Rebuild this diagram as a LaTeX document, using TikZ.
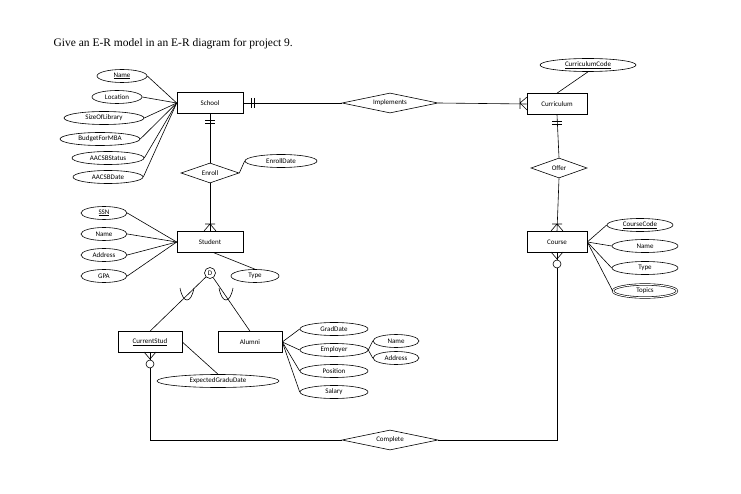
\documentclass[tikz,border=0pt]{standalone}
\usepackage{fontspec}
\setmainfont{Carlito}
\newfontfamily\titlefont{Liberation Serif}
\usetikzlibrary{shapes.geometric,shapes.misc}
\begin{document}
\begin{tikzpicture}[x=1pt,y=-1pt,font=\fontsize{7}{8}\selectfont,line width=0.6pt,
 ent/.style={draw,rectangle,minimum width=66pt,minimum height=21pt,inner sep=0pt},
 att/.style={draw,ellipse,minimum height=13pt,inner sep=0pt},
 rel/.style={draw,diamond,aspect=3,inner sep=1pt},
 dbl/.style={att,double,double distance=1pt}]
\useasboundingbox (0,0) rectangle (741,494);
\node[anchor=west,font=\titlefont\fontsize{11.5}{12}\selectfont] (title) at (50,44) {Give an E-R model in an E-R diagram for project 9.};
% entities
\node[ent] (school) at (210,103) {School};
\node[ent,minimum width=60pt] (curr) at (557,104) {Curriculum};
\node[ent] (student) at (210,242) {Student};
\node[ent,minimum width=60pt] (course) at (557,242) {Course};
\node[ent,minimum width=64pt] (cs) at (150,342) {\underline{CurrentStud}};
\node[ent,minimum width=64pt] (alum) at (250,342) {Alumni};
% relationships
\node[rel,minimum width=96pt,minimum height=20pt] (impl) at (390,103) {Implements};
\node[rel,minimum width=58pt,minimum height=20pt] (enroll) at (210,173) {Enroll};
\node[rel,minimum width=56pt,minimum height=20pt] (offer) at (559,168) {Offer};
\node[rel,minimum width=96pt,minimum height=20pt] (comp) at (390,440) {Complete};
% school attributes
\node[att,minimum width=50pt] (sname) at (122,76) {\underline{Name}};
\node[att,minimum width=50pt] (sloc) at (117,97) {Location};
\node[att,minimum width=80pt] (ssize) at (104,118) {SizeOfLibrary};
\node[att,minimum width=80pt] (sbud) at (100,139) {BudgetForMBA};
\node[att,minimum width=72pt] (sstat) at (108,158) {AACSBStatus};
\node[att,minimum width=70pt] (sdate) at (108,177) {AACSBDate};
\foreach \a in {sname,sloc,ssize,sbud,sstat,sdate} \draw (\a.east) -- (school.west);
\node[att,minimum width=96pt] (ccode) at (588,65) {\underline{CurriculumCode}};
\draw (ccode.south) -- (curr.north);
\node[att,minimum width=72pt] (edate) at (281,161) {EnrollDate};
\draw (enroll.east) -- (edate.west);
% student attributes
\node[att,minimum width=46pt] (ssn) at (104,213) {\underline{SSN}};
\node[att,minimum width=46pt] (stname) at (104,234) {Name};
\node[att,minimum width=46pt] (stadd) at (104,255) {Address};
\node[att,minimum width=46pt] (stgpa) at (104,276) {GPA};
\foreach \a in {ssn,stname,stadd,stgpa} \draw (\a.east) -- (student.west);
\node[att,minimum width=48pt] (stype) at (255,276) {Type};
\draw ([xshift=4pt]student.south) -- (stype.north);
% course attributes
\node[att,minimum width=66pt] (ccc) at (640,225) {\underline{CourseCode}};
\node[att,minimum width=66pt] (cname) at (645,246) {Name};
\node[att,minimum width=66pt] (ctype) at (645,268) {Type};
\node[dbl,minimum width=64pt] (ctop) at (645,291) {Topics};
\foreach \a in {ccc,cname,ctype,ctop} \draw (course.east) -- (\a.west);
% alumni attributes
\node[att,minimum width=68pt] (gd) at (334,329) {GradDate};
\node[att,minimum width=68pt] (emp) at (334,350) {Employer};
\node[att,minimum width=68pt] (pos) at (334,371) {Position};
\node[att,minimum width=68pt] (sal) at (334,392) {Salary};
\foreach \a in {gd,emp,pos,sal} \draw (alum.east) -- (\a.west);
\node[att,minimum width=46pt] (ename) at (396,341) {Name};
\node[att,minimum width=46pt] (eadd) at (396,358) {Address};
\draw (emp.east) -- (ename.west); \draw (emp.east) -- (eadd.west);
\node[att,minimum width=122pt] (egd) at (218,381) {ExpectedGraduDate};
\draw (cs.east) -- (egd.north);
% disjoint
\node[draw,circle,inner sep=0pt,minimum size=11pt] (d) at (210,273) {D};
\draw[double,double distance=1.5pt] (student.south) -- (d.north);
\draw (d) -- (cs.north); \draw (d) -- (alum.north);
\foreach \x in {187,226}
  \draw (\x-7,288) .. controls (\x-4,304) and (\x+4,304) .. (\x+7,288);
% relationships lines
\draw (school.east) -- (impl.west);
\draw (impl.east) -- (curr.west);
\draw (251,98) -- (251,108) (254,98) -- (254,108);
\draw (520,98) -- (520,109) (520,103) -- (527,97) (520,103) -- (527,110);
\draw (school.south) -- (enroll.north);
\draw (205,120) -- (215,120) (205,123) -- (215,123);
\draw (enroll.south) -- (student.north);
\draw (205,224) -- (215,224) (210,224) -- (204,231) (210,224) -- (216,231);
\draw (curr.south) -- (offer.north);
\draw (552,121) -- (562,121) (552,124) -- (562,124);
\draw (offer.south) -- (course.north);
\draw (552,224) -- (562,224) (557,224) -- (551,231) (557,224) -- (563,231);
\coordinate (c1) at (150,440); \coordinate (c2) at (557,440);
\draw (cs.south) -- (c1) -- (comp.west);
\draw (comp.east) -- (c2) -- (course.south);
\draw (150,359) -- (144,352) (150,359) -- (156,352);
\draw[fill=white] (150,364) circle (4pt);
\draw (557,259) -- (551,252) (557,259) -- (563,252);
\draw[fill=white] (557,264) circle (4pt);
\end{tikzpicture}
\end{document}
